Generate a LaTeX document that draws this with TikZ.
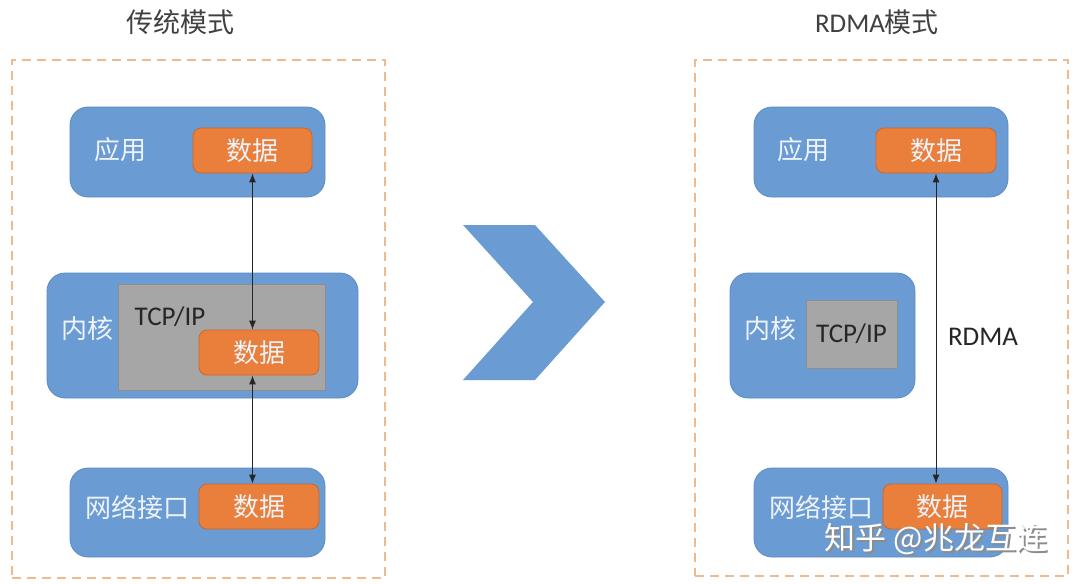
\documentclass[tikz,border=0pt]{standalone}
\usepackage{fontspec}
\setmainfont{Carlito}
\newfontfamily\cjk{Noto Sans CJK SC}
\usepackage{tikz}
\usetikzlibrary{arrows.meta, calc, positioning}

\definecolor{layerblue}{HTML}{6A9BD3}
\definecolor{layeredge}{HTML}{5B8CC6}
\definecolor{dataorange}{HTML}{E97F3B}
\definecolor{dataedge}{HTML}{C8682E}
\definecolor{stackgray}{HTML}{A6A6A6}
\definecolor{stackedge}{HTML}{8E8E8E}
\definecolor{dashorange}{HTML}{F2B98C}
\definecolor{lbltext}{HTML}{EEF3FA}

\tikzset{
  sizebox/.style 2 args={minimum width=#1, minimum height=#2, inner sep=0pt},
  framebox/.style={draw=dashorange, dashed, dash pattern=on 9pt off 6pt, line width=1.1pt},
  layerbox/.style={fill=layerblue, draw=layeredge, line width=0.8pt, rounded corners=18pt},
  databox/.style={fill=dataorange, draw=dataedge, line width=0.8pt, rounded corners=8pt,
    text=lbltext, font=\cjk\fontsize{26}{30}\selectfont},
  stackbox/.style={fill=stackgray, draw=stackedge, line width=0.8pt},
  layerlbl/.style={text=lbltext, font=\cjk\fontsize{26}{30}\selectfont, inner sep=0pt},
  latinlbl/.style={text=black!85, font=\fontsize{27}{30}\selectfont, inner sep=0pt},
  titlelbl/.style={text=black!75, inner sep=0pt},
  marklbl/.style={font=\cjk\fontsize{31}{34}\selectfont, inner sep=0pt},
  link/.style={<->, line width=1pt, black!85},
}

\begin{document}
\begin{tikzpicture}[>={Latex[length=9pt, width=7pt]}, x=1pt, y=-1pt]
  \useasboundingbox (0,0) rectangle (1080,584);

  % traditional mode
  \node[titlelbl, font=\cjk\fontsize{27}{30}\selectfont] (titleL) at (180,22) {传统模式};
  \node[framebox, sizebox={373pt}{518pt}] (frameL) at (198.5,319) {};

  \node[layerbox, sizebox={255pt}{90pt}] (appL) at (197.5,152) {};
  \node[layerlbl] (appLlbl) at (120,150) {应用};
  \node[databox, sizebox={119pt}{45pt}] (dataAL) at (252.5,150.5) {数据};

  \node[layerbox, sizebox={311pt}{125pt}] (kernL) at (202.5,335.5) {};
  \node[layerlbl] (kernLlbl) at (87,329) {内核};
  \node[stackbox, sizebox={207pt}{106pt}] (tcpL) at (221.5,337) {};
  \node[latinlbl] (tcpLlbl) at (170,317) {TCP/IP};
  \node[databox, sizebox={120pt}{45pt}] (dataKL) at (259,352.5) {数据};

  \node[layerbox, sizebox={255pt}{89pt}] (netL) at (197.5,512.5) {};
  \node[layerlbl] (netLlbl) at (137,507) {网络接口};
  \node[databox, sizebox={120pt}{45pt}] (dataNL) at (259,506.5) {数据};

  \draw[link] (dataAL.south) -- (dataAL.south |- dataKL.north);
  \draw[link] (dataAL.south |- dataKL.south) -- (dataAL.south |- dataNL.north);

  % chevron
  \fill[layerblue] (463,225) -- (535,225) -- (605,302) -- (535,380) -- (463,380) -- (533,302) -- cycle;

  % RDMA mode
  \node[titlelbl, font=\fontsize{27}{30}\selectfont] (titleR) at (877,22) {RDMA{\cjk 模式}};
  \node[framebox, sizebox={373pt}{516pt}] (frameR) at (881.5,318) {};

  \node[layerbox, sizebox={254pt}{90pt}] (appR) at (881,152) {};
  \node[layerlbl] (appRlbl) at (803,150) {应用};
  \node[databox, sizebox={120pt}{45pt}] (dataAR) at (936,150.5) {数据};

  \node[layerbox, sizebox={185pt}{125pt}] (kernR) at (822.5,335.5) {};
  \node[layerlbl] (kernRlbl) at (770,329) {内核};
  \node[stackbox, sizebox={91pt}{68pt}, latinlbl] (tcpR) at (851.5,334) {TCP/IP};

  \node[layerbox, sizebox={254pt}{89pt}] (netR) at (881,512.5) {};
  \node[layerlbl] (netRlbl) at (821,507) {网络接口};
  \node[databox, sizebox={119pt}{45pt}] (dataNR) at (942.5,506.5) {数据};

  \draw[link] (dataAR.south) -- (dataAR.south |- dataNR.north);
  \node[latinlbl] (rdma) at (983,337) {RDMA};

  % watermark
  \node[marklbl, text=black!45] (markshadow) at (938,541) {知乎 @兆龙互连};
  \node[marklbl, text=white] (mark) at (936,539) {知乎 @兆龙互连};
\end{tikzpicture}
\end{document}
